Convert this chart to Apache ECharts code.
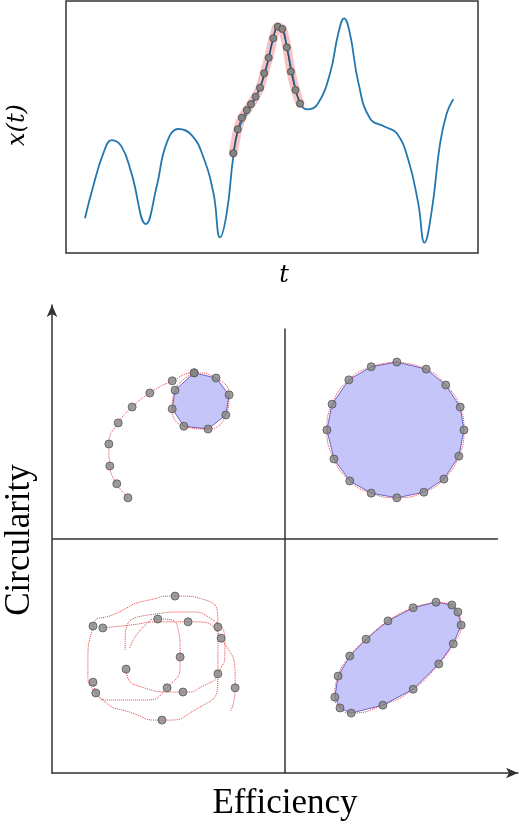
<!DOCTYPE html>
<html><head><meta charset="utf-8">
<script src="https://cdn.jsdelivr.net/npm/echarts@6/dist/echarts.min.js"></script>
<style>html,body{margin:0;padding:0;background:#fff}#c{width:520px;height:827px}</style>
</head><body><div id="c"></div>
<script>
// top panel: signal x(t)
const signal = [[4.6,13.8],[6.6,26.5],[9.1,39.7],[11.1,44.8],[13.5,42.2],[15.9,31.6],[19.4,11.5],[22.0,26.3],[24.4,43.5],[27.3,49.2],[30.5,46.8],[33.3,38.2],[35.8,23.7],[37.4,6.2],[39.0,15.7],[40.6,38.2],[41.8,48.8],[43.9,55.4],[46.3,62.7],[48.3,71.3],[50.3,85.2],[51.4,89.8],[52.5,89.2],[53.6,81.9],[54.8,72.0],[56.8,59.4],[58.8,57.0],[61.2,59.4],[64.1,71.3],[66.1,87.2],[67.5,93.1],[68.9,87.2],[71.0,67.3],[73.8,53.4],[77.4,50.1],[80.3,47.5],[83.1,36.9],[85.5,19.7],[87.0,4.1],[88.8,17.1],[90.8,43.5],[92.4,55.4],[94.0,61.0]];
const windowPts = [[40.6,39.6],[41.7,49.1],[42.7,53.7],[43.9,56.7],[44.9,59.1],[46.0,62.0],[47.1,65.6],[48.1,71.3],[49.2,77.5],[50.3,85.2],[51.4,89.8],[52.5,88.9],[53.6,81.6],[54.6,72.0],[55.7,64.7],[56.8,59.3]];
// bottom panel quadrants
const spiral = [[16.3,58.8],[13.9,61.8],[12.4,65.6],[12.2,70.3],[14.2,74.8],[17.2,78.2],[21.0,81.2],[25.8,83.8],[30.5,85.5]];
const smallLoop = [[30.5,85.5],[35.2,84.4],[38.0,80.8],[37.3,76.5],[33.5,73.5],[28.3,74.1],[25.8,77.8],[26.4,81.8]];
const bigCircle = [[74.0,87.8],[80.3,86.3],[84.5,82.9],[87.6,78.2],[88.4,73.3],[87.3,67.7],[84.1,62.8],[79.8,60.0],[74.0,58.8],[68.5,59.8],[63.9,62.4],[60.5,67.1],[59.0,73.3],[60.1,78.8],[63.7,84.0],[68.5,86.8]];
const ellipse = [[82.4,36.5],[85.8,35.9],[87.1,34.4],[87.8,31.6],[86.1,27.6],[83.0,23.3],[77.5,17.9],[71.0,14.5],[64.2,12.8],[61.8,13.9],[60.7,16.2],[61.4,20.7],[63.9,25.0],[67.4,28.6],[72.1,32.5],[77.5,35.3]];
const chaosDots = [[26.4,37.8],[8.8,31.4],[10.9,31.0],[22.7,32.9],[29.2,32.3],[35.6,31.2],[36.3,28.8],[27.5,24.8],[15.9,22.2],[35.6,21.2],[39.3,18.2],[24.7,18.2],[28.1,17.3],[8.8,19.4],[9.4,17.1],[23.6,11.3]];
const chaos1 = [[16.7,26.7],[20.0,31.6],[22.7,32.9],[27.0,31.0],[27.5,24.8],[24.7,18.2],[18.9,15.6],[12.4,15.6],[9.4,17.1],[7.7,22.0],[8.8,31.4],[13.5,34.0],[21.0,37.0],[26.4,37.8],[32.8,37.0],[35.6,31.2],[35.6,21.2],[30.7,13.5],[23.6,11.3],[16.7,13.0],[10.9,15.6],[8.8,19.4]];
const chaos2 = [[10.9,31.0],[16.7,31.6],[23.2,32.3],[29.2,32.3],[36.3,28.8],[39.3,18.2],[38.2,13.0]];
const chaos3 = [[15.9,22.2],[17.8,18.8],[28.1,17.3],[32.8,18.8],[35.6,21.2],[37.1,26.3],[33.9,33.1],[29.2,34.4],[21.0,33.8],[15.7,28.4],[15.7,26.3]];
const vDivider = [[50,0],[50,95]];
const hDivider = [[0,50],[95.7,50]];

const closed = a => a.concat([a[0]]);
const dotStyle = {color:'#858585', borderColor:'#555', borderWidth:1};
const red = {color:'#e64040', type:'dotted', width:1};
function poly(data){
  return {type:'custom', xAxisIndex:1, yAxisIndex:1, data:[0], z:1,
    renderItem:(p,api)=>({type:'polygon', shape:{points:data.map(d=>api.coord(d))},
      style:{fill:'#c5c5fa', stroke:'#6d62c8', lineWidth:1}})};
}
function redLine(d,s){return {type:'line', xAxisIndex:1, yAxisIndex:1, data:d, smooth:s||0.5, symbol:'none', lineStyle:red, z:2};}
function dots(d){return {type:'scatter', xAxisIndex:1, yAxisIndex:1, data:d, symbolSize:8, itemStyle:dotStyle, z:5};}

const chart = echarts.init(document.getElementById('c'));
chart.setOption({
  animation:false,
  grid:[{left:66, top:1, width:412, height:252, show:true, borderColor:'#333', borderWidth:1.5},
        {left:52, top:305, width:466, height:468}],
  xAxis:[{gridIndex:0, min:0, max:100, show:false},
         {gridIndex:1, min:0, max:100, axisLine:{show:true, onZero:false, lineStyle:{color:'#333', width:1.5}, symbol:['none','arrow'], symbolSize:[8,12]},
          axisTick:{show:false}, axisLabel:{show:false}, splitLine:{show:false}}],
  yAxis:[{gridIndex:0, min:0, max:100, show:false},
         {gridIndex:1, min:0, max:100, axisLine:{show:true, onZero:false, lineStyle:{color:'#333', width:1.5}, symbol:['none','arrow'], symbolSize:[8,12]},
          axisTick:{show:false}, axisLabel:{show:false}, splitLine:{show:false}}],
  graphic:[
    {type:'text', x:18, y:125, rotation:Math.PI/2, style:{text:'x(t)', font:'italic 24px "DejaVu Serif", serif', fill:'#000', align:'center', verticalAlign:'middle'}},
    {type:'text', x:284, y:276, style:{text:'t', font:'italic 24px "DejaVu Serif", serif', fill:'#000', align:'center', verticalAlign:'middle'}},
    {type:'text', x:20, y:540, rotation:Math.PI/2, style:{text:'Circularity', font:'35px "Liberation Serif", "DejaVu Serif", serif', fill:'#000', align:'center', verticalAlign:'middle'}},
    {type:'text', x:285, y:804, style:{text:'Efficiency', font:'35px "Liberation Serif", "DejaVu Serif", serif', fill:'#000', align:'center', verticalAlign:'middle'}}
  ],
  series:[
    {type:'line', data:signal, smooth:0.45, symbol:'none', lineStyle:{color:'#2577b0', width:1.8}, z:2},
    {type:'line', data:windowPts, smooth:0.3, symbol:'none', lineStyle:{color:'rgba(240,120,120,0.45)', width:9, cap:'round'}, z:1},
    {type:'line', data:windowPts, smooth:0.3, symbolSize:7, symbol:'circle', itemStyle:dotStyle, lineStyle:{color:'#345', width:1}, z:3},
    {type:'line', xAxisIndex:1, yAxisIndex:1, data:vDivider, symbol:'none', lineStyle:{color:'#333', width:1.5}},
    {type:'line', xAxisIndex:1, yAxisIndex:1, data:hDivider, symbol:'none', lineStyle:{color:'#333', width:1.5}},
    poly(smallLoop), poly(bigCircle), poly(ellipse),
    redLine(spiral.concat(smallLoop.slice(1)).concat([smallLoop[0]])),
    redLine(closed(bigCircle)), redLine(closed(ellipse)),
    redLine(chaos1,0.7), redLine(chaos2,0.7), redLine(chaos3,0.7),
    dots(spiral), dots(smallLoop), dots(bigCircle), dots(ellipse), dots(chaosDots)
  ]
});
</script></body></html>
